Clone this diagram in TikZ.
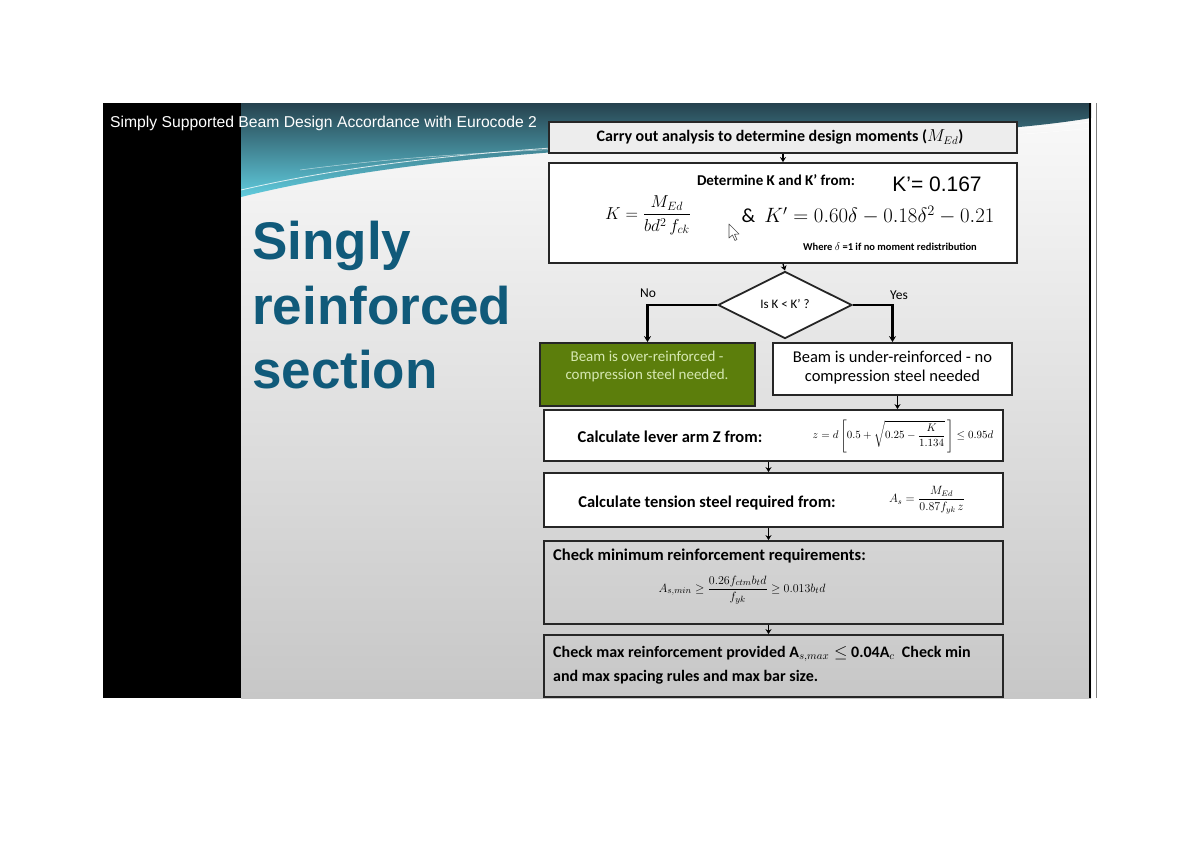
\documentclass[tikz,border=0pt]{standalone}
\usepackage{amsmath}
\usepackage{fontspec}
\setmainfont{Carlito}
\newfontfamily\arialf{Liberation Sans}
\usetikzlibrary{shapes.geometric,arrows.meta,calc}
\definecolor{tealtxt}{RGB}{16,90,122}
\definecolor{oliv}{RGB}{92,126,12}
\definecolor{olivtxt}{RGB}{214,232,178}
\definecolor{banddark}{RGB}{38,66,78}
\definecolor{bandlight}{RGB}{96,204,222}
\definecolor{edge}{RGB}{38,38,38}
\newcommand\fsz[2]{\fontsize{#1}{#2}\selectfont}
\begin{document}
\begin{tikzpicture}[x=1pt,y=-1pt,
  box/.style={draw=edge, line width=1.8pt, rectangle, inner sep=0pt},
  wbox/.style={box, fill=white},
  lbl/.style={inner sep=0pt, anchor=center},
  arr/.style={-{Stealth[length=5pt,width=6pt]}, line width=1.3pt, black},
  brarr/.style={-{Stealth[length=6pt,width=7pt]}, line width=2.2pt, black}]
\useasboundingbox (0,0) rectangle (1200,849);
\fill[white] (0,0) rectangle (1200,849);
% slide background
\shade[top color=white!98!black, bottom color=white!78!black] (241,103) rectangle (1091,698);
% top band
\shade[top color=banddark, bottom color=bandlight]
  (241,103) -- (1091,103) -- (1091,118) .. controls (900,150) and (520,128) .. (241,197) -- cycle;
\draw[white, line width=0.8pt, opacity=0.8] (241,190) .. controls (520,125) and (900,145) .. (1091,122);
\draw[white, line width=0.5pt, opacity=0.6] (300,170) .. controls (560,135) and (900,150) .. (1091,128);
% black strip and right edges
\fill[black] (103,103) rectangle (241,698);
\draw[black, line width=2.5pt] (1090,103) -- (1090,698);
\draw[gray, line width=0.8pt] (1096,103) -- (1096,698);
% title
\node[lbl, anchor=west, text=white, font=\arialf\fsz{15.7}{18}] (title) at (110,123) {Simply Supported Beam Design Accordance with Eurocode 2};
% big heading
\node[lbl, anchor=north west, align=left, text=tealtxt, font=\arialf\bfseries\fsz{53}{64.5}] (head) at (252,221)
  {Singly\\reinforced\\section};
% boxes
\node[box, fill=white!93!black, minimum width=468, minimum height=31] (b1) at (783,137.5) {};
\node[wbox, minimum width=468, minimum height=100] (b2) at (783,213) {};
\node[draw=edge, line width=1.8pt, fill=white, diamond, inner sep=0pt, minimum width=134, minimum height=67] (dia) at (785,305) {};
\node[box, fill=oliv, minimum width=215, minimum height=63] (bno) at (647.5,374.5) {};
\node[wbox, minimum width=239, minimum height=52] (byes) at (892.5,369) {};
\node[wbox, minimum width=459, minimum height=51] (blev) at (773.5,435.5) {};
\node[wbox, minimum width=459, minimum height=54] (bten) at (773.5,500) {};
\node[box, minimum width=459, minimum height=83] (bmin) at (773.5,582.5) {};
\node[box, minimum width=459, minimum height=62] (bmax) at (773.5,666) {};
% connectors
\draw[arr] (b1.south) -- (b2.north);
\draw[arr] (b2.south) -- (dia.north);
\draw[brarr] (dia.west) -| (bno.north);
\draw[brarr] (dia.east) -| (byes.north);
\coordinate (ya) at ($(byes.south)+(5,0)$);
\draw[arr] (ya) -- (ya |- blev.north);
\coordinate (la) at ($(blev.south)+(-5,0)$);
\draw[arr] (la) -- (la |- bten.north);
\coordinate (ta) at ($(bten.south)+(-5,0)$);
\draw[arr] (ta) -- (ta |- bmin.north);
\coordinate (ma) at ($(bmin.south)+(-5,0)$);
\draw[arr] (ma) -- (ma |- bmax.north);
% texts
\node[lbl, font=\bfseries\fsz{16}{18}] (t1) at (780,137) {Carry out analysis to determine design moments ($M_{Ed}$)};
\node[lbl, font=\bfseries\fsz{15}{18}] (t2a) at (776,180) {Determine K and K’ from:};
\node[lbl, font=\arialf\fsz{21}{24}] (t2b) at (937,184) {K’= 0.167};
\node[lbl, font=\fsz{17}{20}] (t2c) at (648,215) {$K=\dfrac{M_{Ed}}{bd^2\, f_{ck}}$};
\node[lbl, font=\fsz{20}{22}] (t2d) at (868,215) {\&\ \ $K'=0.60\delta-0.18\delta^2-0.21$};
\node[lbl, font=\bfseries\fsz{10.5}{12}] (t2e) at (890,247) {Where $\delta$ =1 if no moment redistribution};
% mouse pointer
\draw[black!70, fill=white, line width=0.6pt, line join=round] (729,224) -- (729,238) -- (732.5,235) -- (735,240.5) -- (737,239.5) -- (734.5,234.3) -- (739,234) -- cycle;
\node[lbl, font=\fsz{13}{16}] (tdia) at (785,304) {Is K < K’ ?};
\node[lbl, font=\fsz{13.5}{16}] (tno) at (648,293) {No};
\node[lbl, font=\fsz{13.5}{16}] (tyes) at (899,295) {Yes};
\node[lbl, align=center, text=olivtxt, font=\fsz{15}{18}] (tnob) at (647,366) {Beam is over-reinforced -\\compression steel needed.};
\node[lbl, align=center, font=\fsz{16.5}{19}] (tyesb) at (892.5,368) {Beam is under-reinforced - no\\compression steel needed};
\node[lbl, font=\bfseries\fsz{16.5}{18}] (tlev) at (670,437) {Calculate lever arm Z from:};
\node[lbl, font=\fsz{11}{12}] (flev) at (903,436) {$z=d\left[0.5+\sqrt{0.25-\dfrac{K}{1.134}}\,\right]\le 0.95d$};
\node[lbl, font=\bfseries\fsz{16.5}{18}] (tten) at (707,503) {Calculate tension steel required from:};
\node[lbl, font=\fsz{12}{13}] (ften) at (927,500) {$A_s=\dfrac{M_{Ed}}{0.87 f_{yk}\, z}$};
\node[lbl, anchor=west, font=\bfseries\fsz{16.5}{18}] (tmin) at (553,556) {Check minimum reinforcement requirements:};
\node[lbl, font=\fsz{12.5}{13}] (fmin) at (742,590) {$A_{s,min}\ge\dfrac{0.26 f_{ctm} b_t d}{f_{yk}}\ge 0.013 b_t d$};
\node[lbl, anchor=west, align=left, font=\bfseries\fsz{16}{24}] (tmax) at (553,665) {Check max reinforcement provided A$_{s,max}\le$ 0.04A$_c$\ \ Check min\\and max spacing rules and max bar size.};
\end{tikzpicture}
\end{document}
